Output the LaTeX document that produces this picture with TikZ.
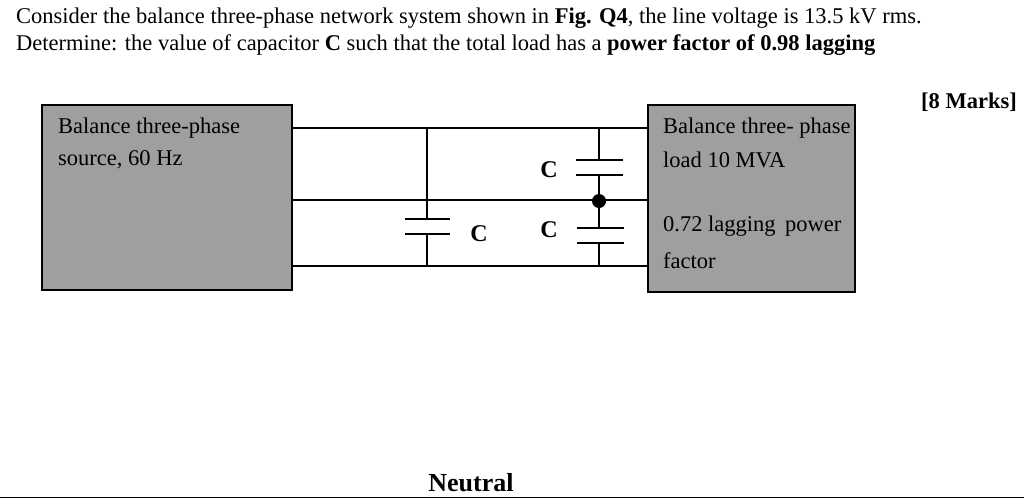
\documentclass[tikz,border=0pt]{standalone}
\usepackage{fontspec}
\setmainfont{Liberation Serif}
\begin{document}
\begin{tikzpicture}[x=1pt,y=-1pt,
  box/.style={draw=black,fill=gray!75,line width=1.2pt},
  wire/.style={line width=2.2pt},
  plate/.style={line width=2.2pt},
  txt/.style={inner sep=0,anchor=west,font=\fontsize{22.5}{26}\selectfont},
  lbl/.style={inner sep=0,font=\fontsize{24}{28}\selectfont\bfseries}]
\useasboundingbox (0,0) rectangle (1024,501);
\node[txt] (t1) at (16,18) {Consider the balance three-phase network system shown in \textbf{Fig. Q4}, the line voltage is 13.5 kV rms.};
\node[txt] (t2) at (16,45) {Determine: the value of capacitor \textbf{C} such that the total load has a \textbf{power factor of 0.98 lagging}};
\node[txt,anchor=east] (mk) at (1017,102) {\textbf{[8 Marks]}};
\draw[box] (42,105) rectangle (292,290);
\draw[box] (648,105) rectangle (855,292);
\node[txt] (s1) at (58,128) {Balance three-phase};
\node[txt] (s2) at (58,160) {source, 60 Hz};
\node[txt] (l1) at (663,128) {Balance three- phase};
\node[txt] (l2) at (663,160) {load 10 MVA};
\node[txt] (l3) at (663,226) {0.72 lagging\, power};
\node[txt] (l4) at (663,261) {factor};
\coordinate (a1) at (292,128); \coordinate (a2) at (648,128);
\coordinate (b1) at (292,200); \coordinate (b2) at (648,200);
\coordinate (c1) at (292,266); \coordinate (c2) at (648,266);
\draw[wire] (a1)--(a2) (b1)--(b2) (c1)--(c2);
\coordinate (L1) at (427,128); \coordinate (L2) at (427,266);
\draw[wire] (L1)--(427,219) (427,234)--(L2);
\draw[plate] (405,219)--(450,219) (405,234)--(450,234);
\node[lbl] (cL) at (479,234) {C};
\coordinate (R1) at (599,128); \coordinate (Rd) at (599,201); \coordinate (R2) at (599,266);
\draw[wire] (R1)--(599,160) (599,175)--(Rd)--(599,228) (599,243)--(R2);
\draw[plate] (576,160)--(623,160) (576,175)--(623,175) (577,228)--(624,228) (577,243)--(624,243);
\fill (Rd) circle (7);
\node[lbl] (cR1) at (549,170) {C};
\node[lbl] (cR2) at (549,230) {C};
\node[lbl,font=\fontsize{26}{30}\selectfont\bfseries] (nt) at (471,483) {Neutral};
\coordinate (n1) at (0,497); \coordinate (n2) at (1024,497);
\draw[line width=1pt] (n1)--(n2);
\end{tikzpicture}
\end{document}
